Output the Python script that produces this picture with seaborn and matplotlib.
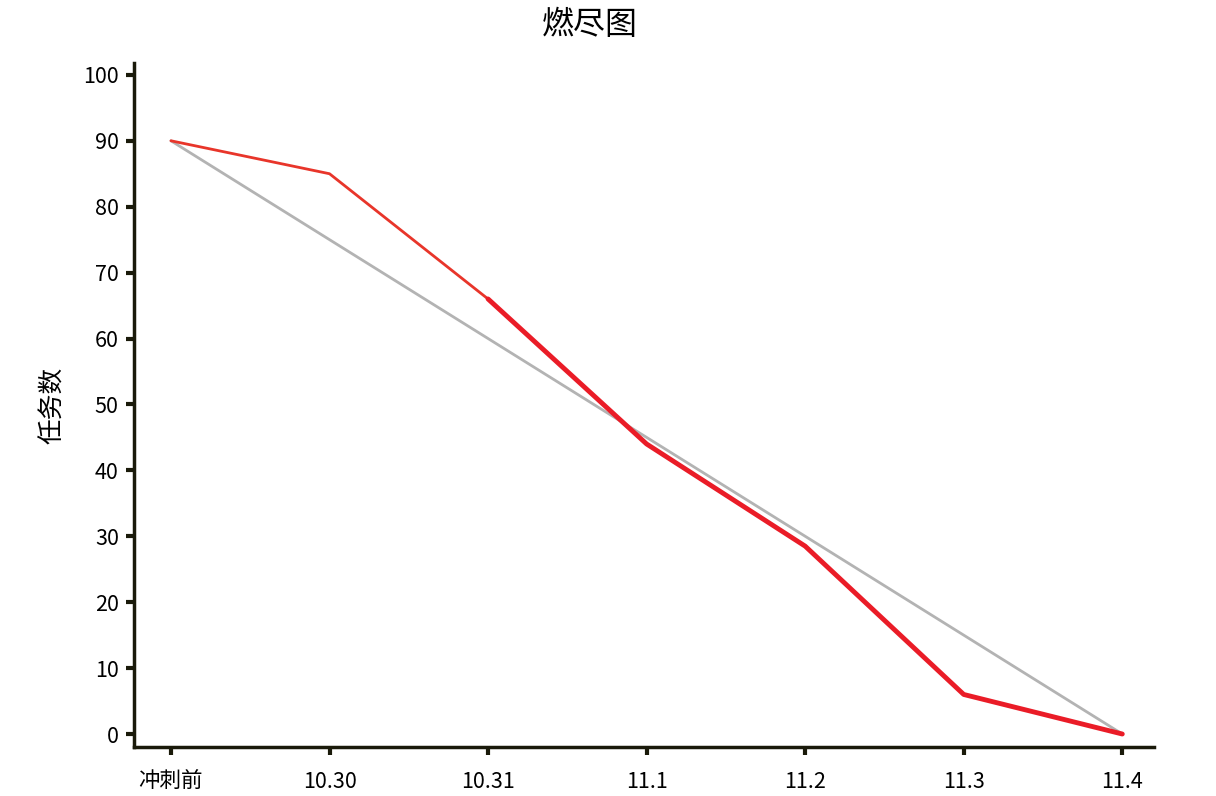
import numpy as np
import pandas as pd
import seaborn as sns
from matplotlib import pyplot as plt

# burndown data
days = ['冲刺前', '10.30', '10.31', '11.1', '11.2', '11.3', '11.4']
actual = [90, 85, 66, 44, 28.5, 6, 0]
ideal = [90, 75, 60, 45, 30, 15, 0]
y_ticks = [0, 10, 20, 30, 40, 50, 60, 70, 80, 90, 100]

sns.set_style('white')
plt.rcParams['font.family'] = ['Noto Sans CJK SC', 'DejaVu Sans']

df = pd.DataFrame({'day': days, 'actual': actual, 'ideal': ideal})
df['pos'] = range(len(days))

fig = plt.figure(figsize=(12.16, 7.96), dpi=100)
ax = fig.add_axes([134 / 1216, 1 - 747 / 796, (1154 - 134) / 1216, (747 - 63) / 796])

sns.lineplot(data=df, x='pos', y='ideal', color='#b3b3b3', linewidth=2, ax=ax)
sns.lineplot(data=df, x='pos', y='actual', color='#e8352a', linewidth=2, ax=ax)
# later part of the actual line is drawn heavier
sns.lineplot(data=df.iloc[2:], x='pos', y='actual', color='#ea1c27', linewidth=3.5, ax=ax)

ax.set_xlim(-0.233, 6.2)
ax.set_ylim(-1.97, 101.8)
ax.set_xticks(df['pos'])
ax.set_xticklabels(days)
ax.set_yticks(y_ticks)
ax.tick_params(axis='both', direction='out', length=6, width=3, color='#1a1a0a',
               labelsize=15.5, labelcolor='black', left=True, bottom=True)
ax.tick_params(axis='x', pad=11)
ax.tick_params(axis='y', pad=5)
for side in ['top', 'right']:
    ax.spines[side].set_visible(False)
for side in ['left', 'bottom']:
    ax.spines[side].set_color('#1a1a0a')
    ax.spines[side].set_linewidth(2.5)

ax.set_xlabel('')
ax.set_ylabel('任务数', fontsize=18.5, labelpad=12, color='black')
fig.text(590 / 1216, 1 - 25 / 796, '燃尽图', fontsize=23, ha='center', va='center', color='black')

plt.savefig('out.png', dpi=100)
